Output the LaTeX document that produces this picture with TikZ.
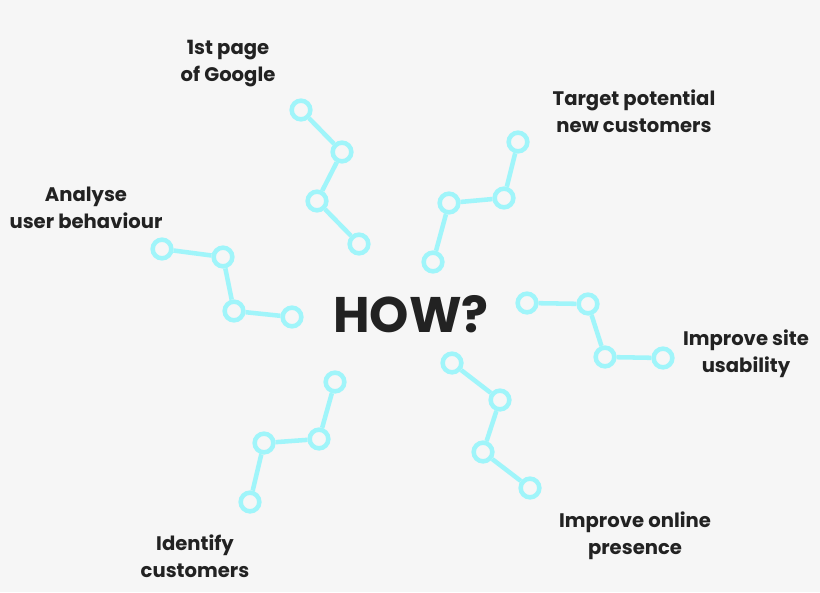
\documentclass[tikz,border=0pt]{standalone}
\usepackage{fontspec}
\setmainfont{Poppins}[BoldFont={* Bold}]
\definecolor{bg}{RGB}{246,246,246}
\definecolor{cy}{RGB}{160,245,250}
\definecolor{ink}{RGB}{34,34,34}
\begin{document}
\begin{tikzpicture}[x=0.75pt,y=-0.75pt,
  dot/.style={circle,draw=cy,line width=3.4pt,minimum size=14pt,inner sep=0pt},
  link/.style={draw=cy,line width=3.4pt},
  lbl/.style={align=center,text=ink,font=\bfseries\fontsize{14.7}{20.25}\selectfont},
  big/.style={text=ink,font=\bfseries\fontsize{37.5}{40}\selectfont}]
\fill[bg] (0,0) rectangle (820,592);
\useasboundingbox (0,0) rectangle (820,592);
\node[big] (how) at (411,314) {HOW?};
% chain 1
\node[dot] (a1) at (301,110) {};
\node[dot] (a2) at (342,152) {};
\node[dot] (a3) at (317,201) {};
\node[dot] (a4) at (359,244) {};
\draw[link] (a1)--(a2) (a2)--(a3) (a3)--(a4);
% chain 2
\node[dot] (b1) at (518,142) {};
\node[dot] (b2) at (504,198) {};
\node[dot] (b3) at (449,203) {};
\node[dot] (b4) at (433,262) {};
\draw[link] (b1)--(b2) (b2)--(b3) (b3)--(b4);
% chain 3
\node[dot] (c1) at (162,249) {};
\node[dot] (c2) at (223,257) {};
\node[dot] (c3) at (234,311) {};
\node[dot] (c4) at (292,317) {};
\draw[link] (c1)--(c2) (c2)--(c3) (c3)--(c4);
% chain 4
\node[dot] (d1) at (527,303) {};
\node[dot] (d2) at (588,304) {};
\node[dot] (d3) at (605,357) {};
\node[dot] (d4) at (663,358) {};
\draw[link] (d1)--(d2) (d2)--(d3) (d3)--(d4);
% chain 5
\node[dot] (e1) at (335,382) {};
\node[dot] (e2) at (319,439) {};
\node[dot] (e3) at (264,443) {};
\node[dot] (e4) at (250,502) {};
\draw[link] (e1)--(e2) (e2)--(e3) (e3)--(e4);
% chain 6
\node[dot] (f1) at (452,363) {};
\node[dot] (f2) at (500,400) {};
\node[dot] (f3) at (483,452) {};
\node[dot] (f4) at (530,488) {};
\draw[link] (f1)--(f2) (f2)--(f3) (f3)--(f4);
% labels
\node[lbl] (l1) at (228,64) {1st page\\of Google};
\node[lbl] (l2) at (634,111) {Target potential\\new customers};
\node[lbl] (l3) at (86,208) {Analyse\\user behaviour};
\node[lbl] (l4) at (746,354) {Improve site\\usability};
\node[lbl] (l5) at (195,556) {Identify\\customers};
\node[lbl] (l6) at (635,536) {Improve online\\presence};
\end{tikzpicture}
\end{document}
